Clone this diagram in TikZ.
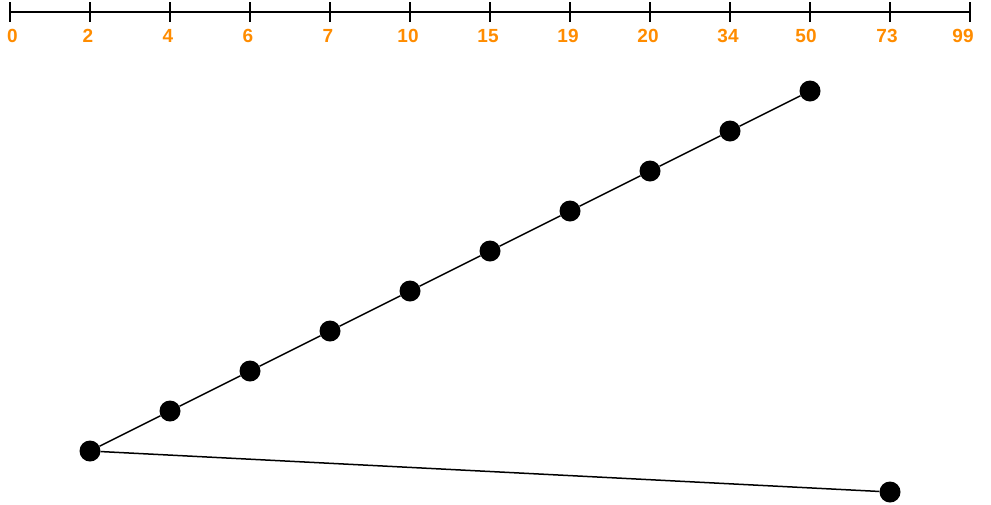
\documentclass[tikz,border=0pt]{standalone}
\usepackage{fontspec}
\setmainfont{Liberation Sans}
\definecolor{lbl}{RGB}{255,140,0}
\begin{document}
\begin{tikzpicture}[x=1pt,y=-1pt,
  dot/.style={circle,fill=black,minimum size=21pt,inner sep=0pt},
  tick/.style={line width=1.6pt},
  lab/.style={text=lbl,font=\fontsize{19}{19}\selectfont\bfseries,inner sep=0pt,anchor=center},
  edge/.style={line width=1.5pt}]
\useasboundingbox (0,0) rectangle (991,504);
\coordinate (a0) at (10,12);
\coordinate (a1) at (970,12);
\draw[tick] (a0) -- (a1);
\foreach \x/\lx/\t [count=\i] in {10/12.5/0,90/88/2,170/168/4,250/248/6,330/328/7,410/408/10,490/488/15,570/568/19,650/648/20,730/728/34,810/806/50,890/887/73,970/963/99}{
  \coordinate (t\i) at (\x,2);
  \coordinate (b\i) at (\x,22);
  \draw[tick] (t\i) -- (b\i);
  \node[lab] (l\i) at (\lx,36) {\t};
}
\node[dot] (d2) at (90,451) {};
\node[dot] (d4) at (170,411) {};
\node[dot] (d6) at (250,371) {};
\node[dot] (d7) at (330,331) {};
\node[dot] (d10) at (410,291) {};
\node[dot] (d15) at (490,251) {};
\node[dot] (d19) at (570,211) {};
\node[dot] (d20) at (650,171) {};
\node[dot] (d34) at (730,131) {};
\node[dot] (d50) at (810,91) {};
\node[dot] (d73) at (890,492) {};
\draw[edge] (d2) -- (d4) -- (d6) -- (d7) -- (d10) -- (d15) -- (d19) -- (d20) -- (d34) -- (d50);
\draw[edge] (d2) -- (d73);
\end{tikzpicture}
\end{document}
